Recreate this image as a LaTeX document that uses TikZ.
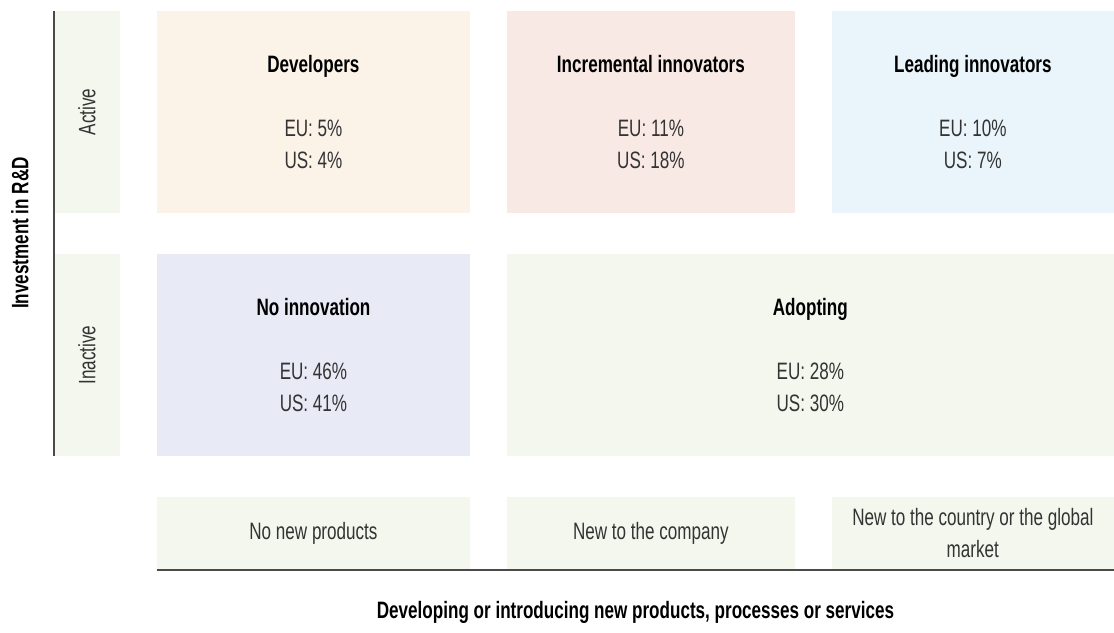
\documentclass[tikz,border=0pt]{standalone}
\usepackage{fontspec}
\setmainfont{Liberation Sans}[FakeStretch=0.72]
\usepackage{xcolor}
\usepackage{tikz}
\usetikzlibrary{positioning}
\definecolor{devfill}{HTML}{FBF2E8}
\definecolor{incfill}{HTML}{F9E9E5}
\definecolor{leadfill}{HTML}{EAF5FB}
\definecolor{nonefill}{HTML}{E8EAF6}
\definecolor{sage}{HTML}{F4F7EE}
\definecolor{axisgrey}{HTML}{4A4A4A}

\begin{document}
\begin{tikzpicture}[x=0.02cm, y=-0.02cm, node distance=0.82cm and 0.74cm,
  every node/.style={font=\fontsize{13.5}{18.2}\selectfont, text=black!80},
  cell/.style={minimum height=4.04cm, inner sep=0pt, outer sep=0pt, align=center},
  band/.style={cell, fill=sage, minimum width=1.32cm},
  tag/.style={minimum height=1.46cm, inner sep=0pt, outer sep=0pt, align=center, fill=sage},
  axis/.style={draw=axisgrey, line width=0.8pt}]
\useasboundingbox (0,0) rectangle (1114,632);
% row labels
\node[band, anchor=north west] (active) at (54,11) {};
\node[band, below=of active] (inactive) {};
\node[rotate=90] (activetxt) at (active.center) {Active};
\node[rotate=90] (inactivetxt) at (inactive.center) {Inactive};
% top row
\node[cell, fill=devfill, minimum width=6.26cm, right=of active] (dev)
  {\textbf{\color{black}Developers}\\[18.2pt] EU: 5\%\\ US: 4\%};
\node[cell, fill=incfill, minimum width=5.76cm, right=of dev] (inc)
  {\textbf{\color{black}Incremental innovators}\\[18.2pt] EU: 11\%\\ US: 18\%};
\node[cell, fill=leadfill, minimum width=5.64cm, right=of inc] (lead)
  {\textbf{\color{black}Leading innovators}\\[18.2pt] EU: 10\%\\ US: 7\%};
% bottom row
\node[cell, fill=nonefill, minimum width=6.26cm, right=of inactive] (none)
  {\textbf{\color{black}No innovation}\\[18.2pt] EU: 46\%\\ US: 41\%};
\node[cell, fill=sage, minimum width=12.14cm, right=of none] (adopt)
  {\textbf{\color{black}Adopting}\\[18.2pt] EU: 28\%\\ US: 30\%};
% product categories
\node[tag, minimum width=6.26cm, below=of none] (nonew) {No new products};
\node[tag, minimum width=5.76cm, right=of nonew] (newco) {New to the company};
\node[tag, minimum width=5.64cm, right=of newco] (newmkt) {New to the country or the global\\ market};
% axes
\draw[axis] (active.north west) -- (inactive.south west);
\draw[axis] (nonew.south west) -- (newmkt.south east);
\node[rotate=90, text=black] (ylabel) at (20,233) {\textbf{Investment in R\&D}};
\node[text=black] (xlabel) at (635.5,612) {\textbf{Developing or introducing new products, processes or services}};
\end{tikzpicture}
\end{document}
